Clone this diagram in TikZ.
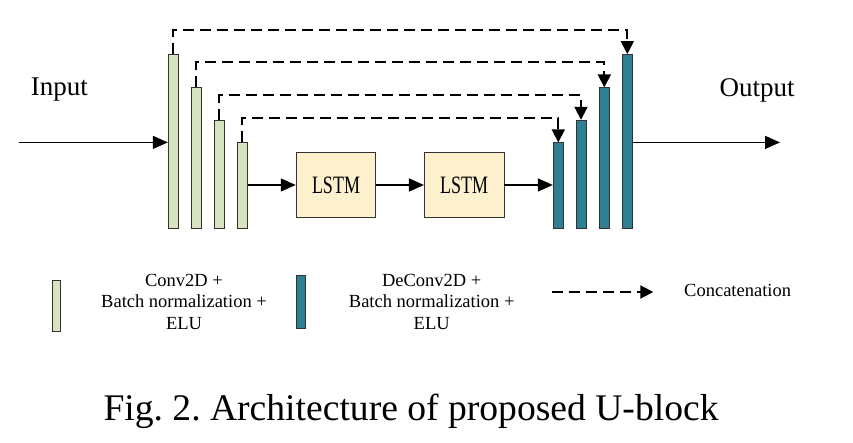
\documentclass[tikz,border=0pt]{standalone}
\usepackage{fontspec}
\usepackage{graphicx}
\setmainfont{Liberation Serif}
\usetikzlibrary{arrows.meta}
\frenchspacing
\definecolor{encgreen}{HTML}{D7E2BE}
\definecolor{decteal}{HTML}{2F7F92}
\definecolor{lstmfill}{HTML}{FDF0CD}
\definecolor{edgegray}{HTML}{333333}
\tikzset{
  enc/.style={draw=edgegray, fill=encgreen, line width=0.9pt, minimum width=10pt, inner sep=0pt, anchor=south},
  dec/.style={draw=edgegray, fill=decteal, line width=0.9pt, minimum width=10pt, inner sep=0pt, anchor=south},
  lstmbox/.style={draw=edgegray, fill=lstmfill, line width=0.8pt, minimum width=79.7pt, minimum height=64.6pt, inner sep=0pt},
  arr/.style={line width=1.4pt, -{Triangle[length=15pt,width=13pt]}},
  skip/.style={line width=1.9pt, dash pattern=on 11pt off 6pt, -{Triangle[length=13pt,width=13pt]}},
  lbl/.style={font=\fontsize{27}{30}\selectfont, inner sep=0pt},
  leg/.style={font=\fontsize{18.5}{21.5}\selectfont, align=center, inner sep=0pt},
}
\begin{document}
\begin{tikzpicture}[x=1pt,y=-1pt]
\useasboundingbox (0,0) rectangle (853,442);
% encoder bars
\node[enc, minimum height=174.3pt] (e1) at (173.3,229.3) {};
\node[enc, minimum height=141pt] (e2) at (196,229.3) {};
\node[enc, minimum height=108.6pt] (e3) at (219.3,229.3) {};
\node[enc, minimum height=86pt] (e4) at (242.3,229.3) {};
% decoder bars
\node[dec, minimum height=86pt] (d1) at (558.3,229.3) {};
\node[dec, minimum height=108.6pt] (d2) at (581,229.3) {};
\node[dec, minimum height=141pt] (d3) at (604.3,229.3) {};
\node[dec, minimum height=174.3pt] (d4) at (627.3,229.3) {};
% LSTM boxes
\node[lstmbox] (l1) at (336,185) {\scalebox{0.72}[1]{\fontsize{25}{25}\selectfont LSTM}};
\node[lstmbox] (l2) at (464.2,185) {\scalebox{0.72}[1]{\fontsize{25}{25}\selectfont LSTM}};
% input / output
\coordinate (in) at (19.3,142.4);
\coordinate (out) at (780,142.4);
\node[lbl, anchor=base west] (tin) at (30.7,95.7) {Input};
\node[lbl, anchor=base west] (tout) at (719.3,96) {Output};
\draw[arr] (in) -- (in -| e1.west);
\draw[arr] (out -| d4.east) -- (out);
% bottleneck
\draw[arr] (e4.east |- l1.west) -- (l1.west);
\draw[arr] (l1.east) -- (l2.west);
\draw[arr] (l2.east) -- (l2.east -| d1.west);
% skip connections
\draw[skip] (e1.north) -- ++(0,-24.3) -| (d4.north);
\draw[skip] (e2.north) -- ++(0,-25) -| (d3.north);
\draw[skip] (e3.north) -- ++(0,-24.7) -| (d2.north);
\draw[skip] (e4.north) -- ++(0,-24.3) -| (d1.north);
% legend
\node[draw=edgegray, fill=encgreen, line width=0.9pt, minimum width=8pt, minimum height=51pt, inner sep=0pt] (lg) at (56.7,306.2) {};
\node[leg] (lgt) at (184,301.5) {Conv2D +\\Batch normalization +\\ELU};
\node[draw=edgegray, fill=decteal, line width=0.9pt, minimum width=8.3pt, minimum height=53pt, inner sep=0pt] (lt) at (300.8,301.5) {};
\node[leg] (ltt) at (431.7,301.5) {DeConv2D +\\Batch normalization +\\ELU};
\coordinate (la) at (551.7,292);
\coordinate (lb) at (653.3,292);
\draw[skip] (la) -- (lb);
\node[leg, anchor=base west] (lc) at (684,296) {Concatenation};
% caption
\node[inner sep=0pt, anchor=base west, font=\fontsize{37.6}{40}\selectfont] (cap) at (103.3,420) {Fig. 2. Architecture of proposed U-block};
\end{tikzpicture}
\end{document}
